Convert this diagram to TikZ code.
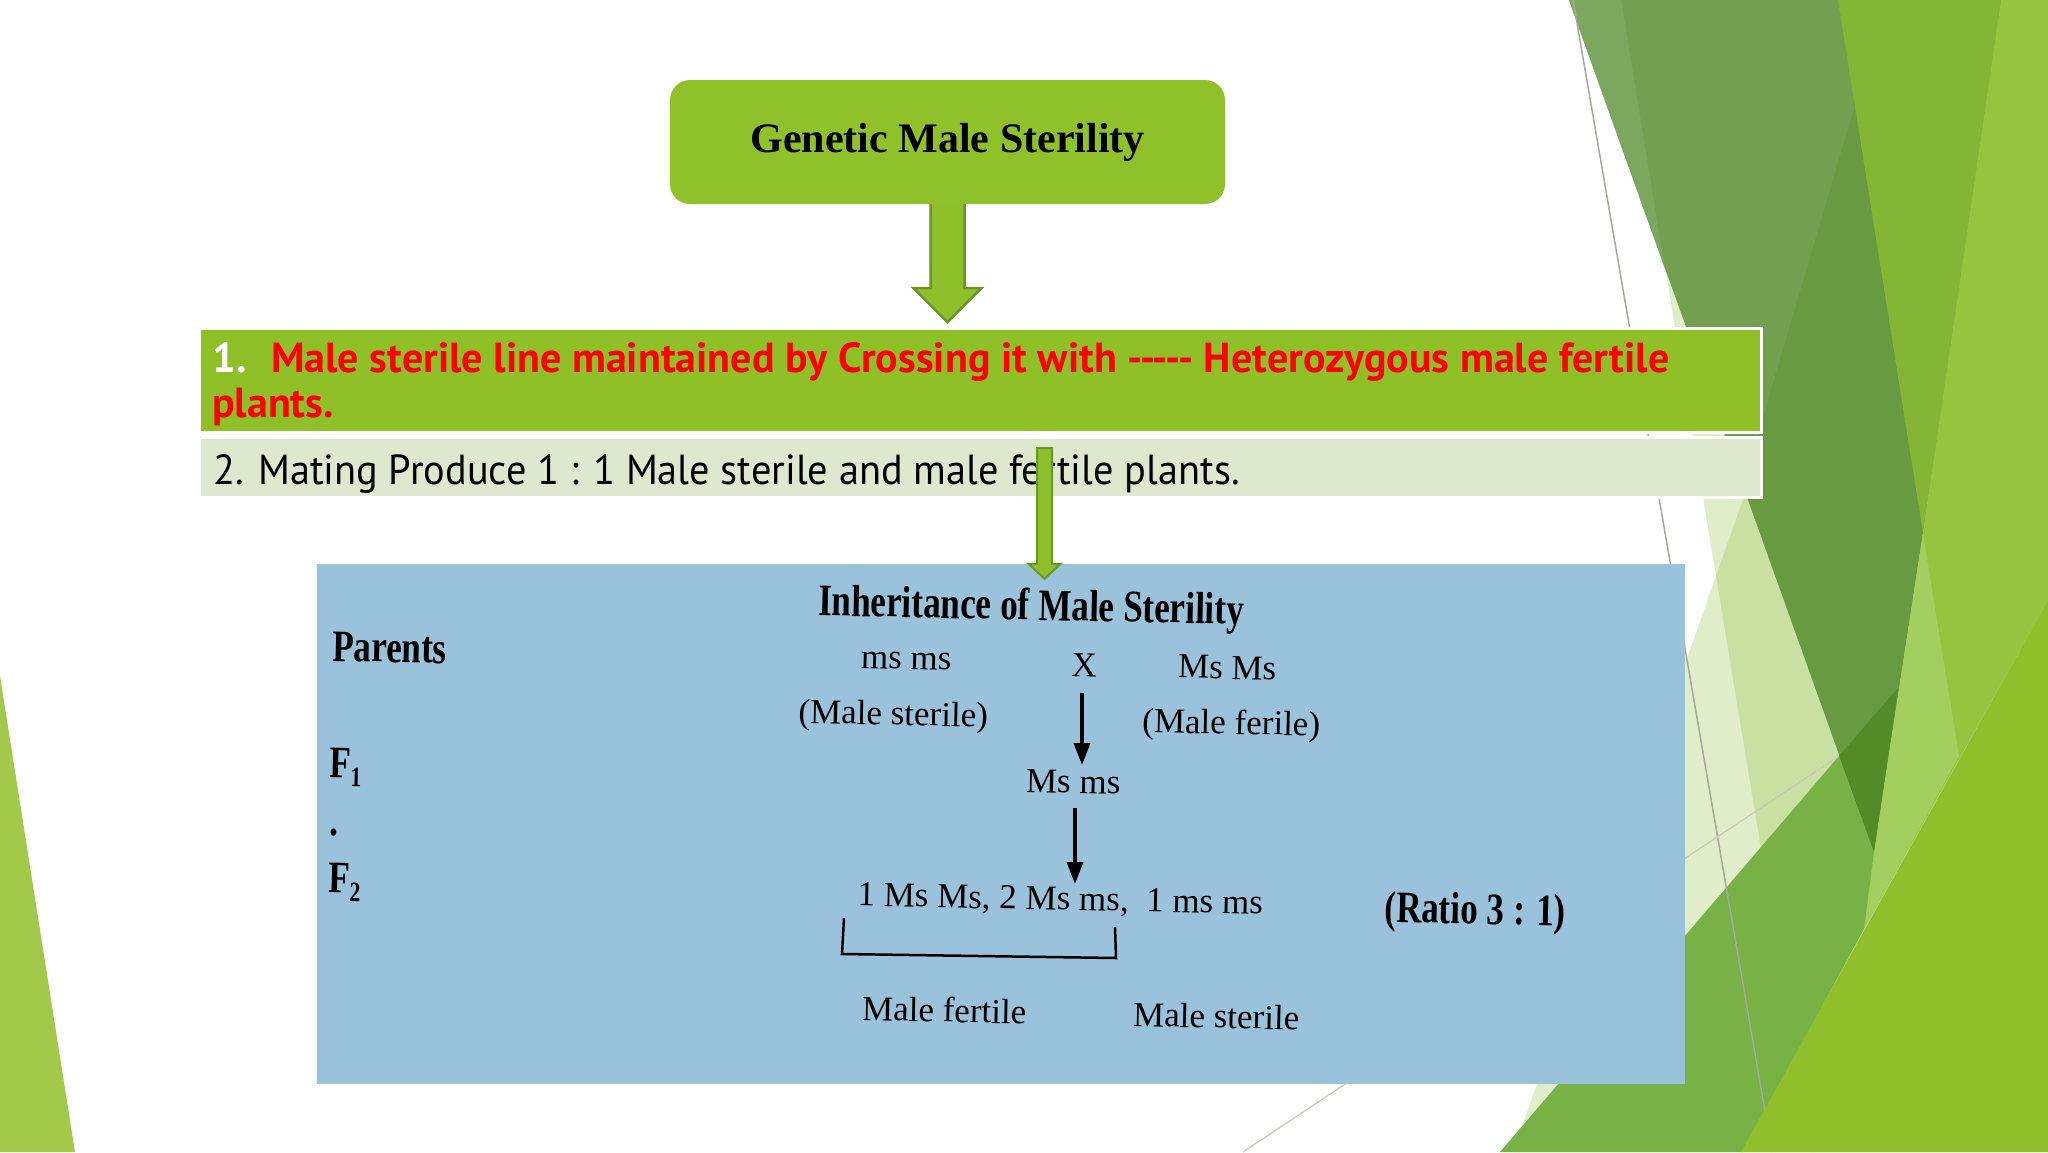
\documentclass[tikz,border=0pt]{standalone}
\usepackage{fontspec}
\setmainfont{Liberation Serif}
\newfontfamily\bandfont[FakeStretch=0.96]{PT Sans}
\newfontfamily\bandboldfont[FakeStretch=1.0]{PT Sans}
\newfontfamily\scanfont[FakeStretch=0.78]{Liberation Serif}
\usetikzlibrary{arrows.meta,calc}
\definecolor{titlegreen}{RGB}{143,193,42}
\definecolor{bandgreen}{RGB}{143,192,40}
\definecolor{bandpale}{RGB}{221,232,207}
\definecolor{scanblue}{RGB}{155,194,219}
\definecolor{arrowfill}{RGB}{141,192,43}
\definecolor{arrowedge}{RGB}{108,150,38}
\definecolor{facetpale}{RGB}{141,192,63}
\definecolor{facetmuted}{RGB}{114,160,80}
\definecolor{facetstrip}{RGB}{123,168,94}
\definecolor{facetdark}{RGB}{104,154,65}
\definecolor{facetdarker}{RGB}{82,139,39}
\definecolor{facetbright}{RGB}{133,181,53}
\definecolor{facetlight}{RGB}{150,196,62}
\definecolor{facetlstrip}{RGB}{163,206,96}
\definecolor{facetbottom}{RGB}{143,192,44}
\definecolor{facetmid}{RGB}{120,177,70}
\definecolor{facetleft}{RGB}{162,201,74}
\definecolor{hairA}{RGB}{168,168,160}
\definecolor{hairB}{RGB}{200,200,184}
\begin{document}
\begin{tikzpicture}[x=1pt,y=-1pt,
  bandbox/.style={draw=white,line width=3pt,inner sep=0,minimum width=1562pt},
  bandtext/.style={anchor=base west,inner sep=0,font=\bandfont\fontsize{42}{50}\selectfont},
  bandbold/.style={anchor=base west,inner sep=0,font=\bandboldfont\bfseries\fontsize{42}{50}\selectfont},
  scan/.style={inner sep=0,rotate=-1.2,anchor=base,font=\fontsize{35}{40}\selectfont},
  scanb/.style={inner sep=0,rotate=-1.2,anchor=base,font=\scanfont\bfseries\fontsize{45}{50}\selectfont},
  blackarrow/.style={line width=3.5pt,-{Triangle[width=16pt,length=22pt]}},
  arrowline/.style={draw=arrowedge,line width=2.5pt,line join=miter}
]
\useasboundingbox (0,0) rectangle (2048,1152);
\fill[white] (0,0) rectangle (2048,1152);
% background facets
\fill[facetpale,opacity=0.28] (1621,0) -- (2048,0) -- (2048,1152) -- (1811,1152) -- cycle;
\fill[facetpale,opacity=0.28] (1919,0) -- (2048,0) -- (2048,1152) -- (1513,1152) -- cycle;
\fill[facetmuted] (1569,0) -- (2004,0) -- (1874,852) -- cycle;
\fill[facetstrip] (1569,0) -- (1621,0) -- (1665,269) -- cycle;
\fill[facetdark] (1855,105) -- (1923,533) -- (1874,852) -- (1743,485) -- cycle;
\fill[facetbright] (1838,0) -- (2001,0) -- (1923,533) -- cycle;
\fill[facetlight] (2001,0) -- (2048,0) -- (2048,600) -- (1864,929) -- (1874,852) -- (1923,533) -- cycle;
\fill[facetlstrip] (1923,533) -- (1959,756) -- (1864,929) -- (1874,852) -- cycle;
\fill[facetmid] (1500,1152) -- (1839,756) -- (1874,852) -- (1864,929) -- (1743,1152) -- cycle;
\fill[facetdarker] (1839,756) -- (1898,688) -- (1874,852) -- cycle;
\draw[hairA,line width=1.5pt] (1573,0) -- (1772,1152);
\draw[hairB,line width=1.2pt] (1243,1152) -- (1839,756);
\fill[facetbottom] (2048,600) -- (2048,1152) -- (1741,1152) -- cycle;
\fill[facetleft] (0,676) -- (75,1152) -- (0,1152) -- cycle;

% title
\node[fill=titlegreen,rounded corners=20pt,minimum width=555pt,minimum height=124pt,inner sep=0,
      font=\bfseries\fontsize{42}{50}\selectfont] (title) at (947.5,142) {Genetic Male Sterility};
% bands
\node[bandbox,fill=bandgreen,minimum height=104pt] (band1) at (980,380) {};
\node[bandbox,fill=bandpale,minimum height=60pt] (band2) at (980,467) {};
% block arrow title -> band1
\coordinate (ta) at (title.south);
\fill[arrowfill] ($(ta)+(-17,-2)$) -- ($(ta)+(-17,84)$) -- ($(ta)+(-34,84)$) -- ($(ta)+(0,118)$)
   -- ($(ta)+(34,84)$) -- ($(ta)+(17,84)$) -- ($(ta)+(17,-2)$) -- cycle;
\draw[arrowline] ($(ta)+(-17,0)$) -- ($(ta)+(-17,84)$) -- ($(ta)+(-34,84)$) -- ($(ta)+(0,118)$)
   -- ($(ta)+(34,84)$) -- ($(ta)+(17,84)$) -- ($(ta)+(17,0)$);
% band texts
\node[bandbold,text=white] (n1) at (212,372) {1.};
\node[bandbold,text=red] (l1) at (271,372) {Male sterile line maintained by Crossing it with -{}-{}-{}-{}- Heterozygous male fertile};
\node[bandbold,text=red] (l1b) at (212,417) {plants.};
\node[bandtext] (l2) at (213,484) {2. Mating Produce 1 : 1 Male sterile and male fertile plants.};

% scanned box
\node[fill=scanblue,minimum width=1368pt,minimum height=520pt,inner sep=0] (scanbox) at (1001,824) {};
\node[scanb] (inh) at (1031,620) {Inheritance of Male Sterility};
\node[scanb,anchor=base west] (par) at (332,661) {Parents};
\node[scan] (p1) at (906,669) {ms ms};
\node[scan] (cross) at (1084,677) {X};
\node[scan] (p2) at (1227,679) {Ms Ms};
\node[scan] (p1l) at (893,725) {(Male sterile)};
\node[scan] (p2l) at (1231,734) {(Male ferile)};
\node[scanb,anchor=base west] (f1) at (329,777) {F\raisebox{-0.2em}{\fontsize{28}{30}\selectfont 1}};
\node[scan] (f1g) at (1073,793) {Ms ms};
\node[scanb,anchor=base west] (dot) at (329,835) {.};
\node[scanb,anchor=base west] (f2) at (328,892) {F\raisebox{-0.2em}{\fontsize{28}{30}\selectfont 2}};
\node[scan] (f2g) at (1060,910) {1 Ms Ms, 2 Ms ms,\ \ 1 ms ms};
\node[scanb] (ratio) at (1475,924) {(Ratio 3 : 1)};
\node[scan] (mf) at (944,1022) {Male fertile};
\node[scan] (msl) at (1216,1028) {Male sterile};
% black arrows
\coordinate (a1s) at (1082,693);
\coordinate (a1e) at (1082,765);
\draw[blackarrow] (a1s) -- (a1e);
\coordinate (a2s) at (1075,808);
\coordinate (a2e) at (1075,884);
\draw[blackarrow] (a2s) -- (a2e);
% bracket
\coordinate (bk1) at (844,918);
\coordinate (bk2) at (842,954);
\coordinate (bk3) at (1116,958);
\coordinate (bk4) at (1115,927);
\draw[line width=2.5pt] (bk1) -- (bk2) -- (bk3) -- (bk4);
% thin green arrow band2 -> scanbox
\coordinate (ga) at (1044.5,448);
\draw[fill=arrowfill,arrowline,line width=2pt] ($(ga)+(-7.5,0)$) -- ($(ga |- scanbox.north)+(-7.5,0)$)
  -- ($(ga |- scanbox.north)+(-16,0)$) -- ($(ga |- scanbox.north)+(0,15)$)
  -- ($(ga |- scanbox.north)+(16,0)$) -- ($(ga |- scanbox.north)+(7.5,0)$)
  -- ($(ga)+(7.5,0)$) -- cycle;
\end{tikzpicture}
\end{document}
